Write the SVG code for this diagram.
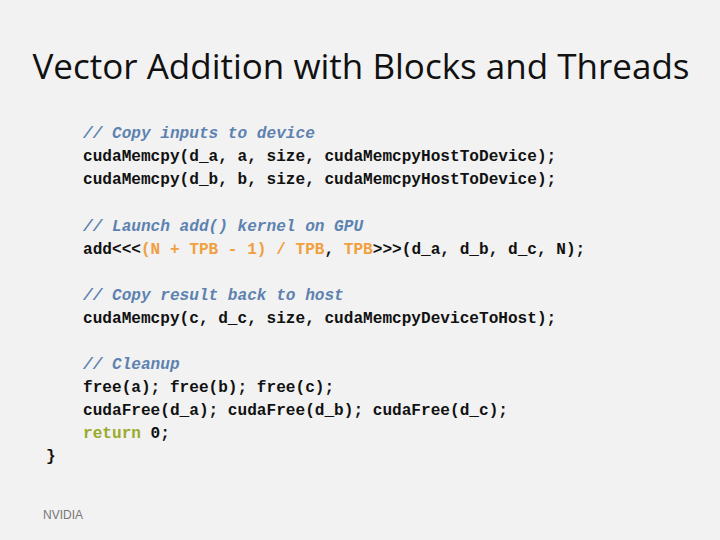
<svg xmlns="http://www.w3.org/2000/svg" width="720" height="540" viewBox="0 0 720 540">
<style>
.c{font-family:"Liberation Mono",monospace;font-size:16.1px;font-weight:bold;fill:#111;white-space:pre}
.cm{fill:#5d82b0;font-style:italic}
.o{fill:#f0a040}
.k{fill:#9aaa2a}
</style>
<rect width="720" height="540" fill="#f2f2f2"/>
<text x="361" y="79" text-anchor="middle" font-family="Open Sans, sans-serif" font-size="35" fill="#111">Vector Addition with Blocks and Threads</text>
<g id="code" class="c">
<text x="83" y="138" class="c cm">// Copy inputs to device</text>
<text x="83" y="161" class="c">cudaMemcpy(d_a, a, size, cudaMemcpyHostToDevice);</text>
<text x="83" y="184" class="c">cudaMemcpy(d_b, b, size, cudaMemcpyHostToDevice);</text>
<text x="83" y="231" class="c cm">// Launch add() kernel on GPU</text>
<text x="83" y="254" class="c">add&lt;&lt;&lt;<tspan class="o">(N + TPB - 1) / TPB</tspan>, <tspan class="o">TPB</tspan>&gt;&gt;&gt;(d_a, d_b, d_c, N);</text>
<text x="83" y="300" class="c cm">// Copy result back to host</text>
<text x="83" y="323" class="c">cudaMemcpy(c, d_c, size, cudaMemcpyDeviceToHost);</text>
<text x="83" y="369" class="c cm">// Cleanup</text>
<text x="83" y="392" class="c">free(a); free(b); free(c);</text>
<text x="83" y="415" class="c">cudaFree(d_a); cudaFree(d_b); cudaFree(d_c);</text>
<text x="83" y="438" class="c"><tspan class="k">return</tspan> 0;</text>
<text x="46" y="461" class="c">}</text>
</g>
<text x="43" y="519" font-family="Liberation Sans, sans-serif" font-size="12" fill="#777">NVIDIA</text>
</svg>
